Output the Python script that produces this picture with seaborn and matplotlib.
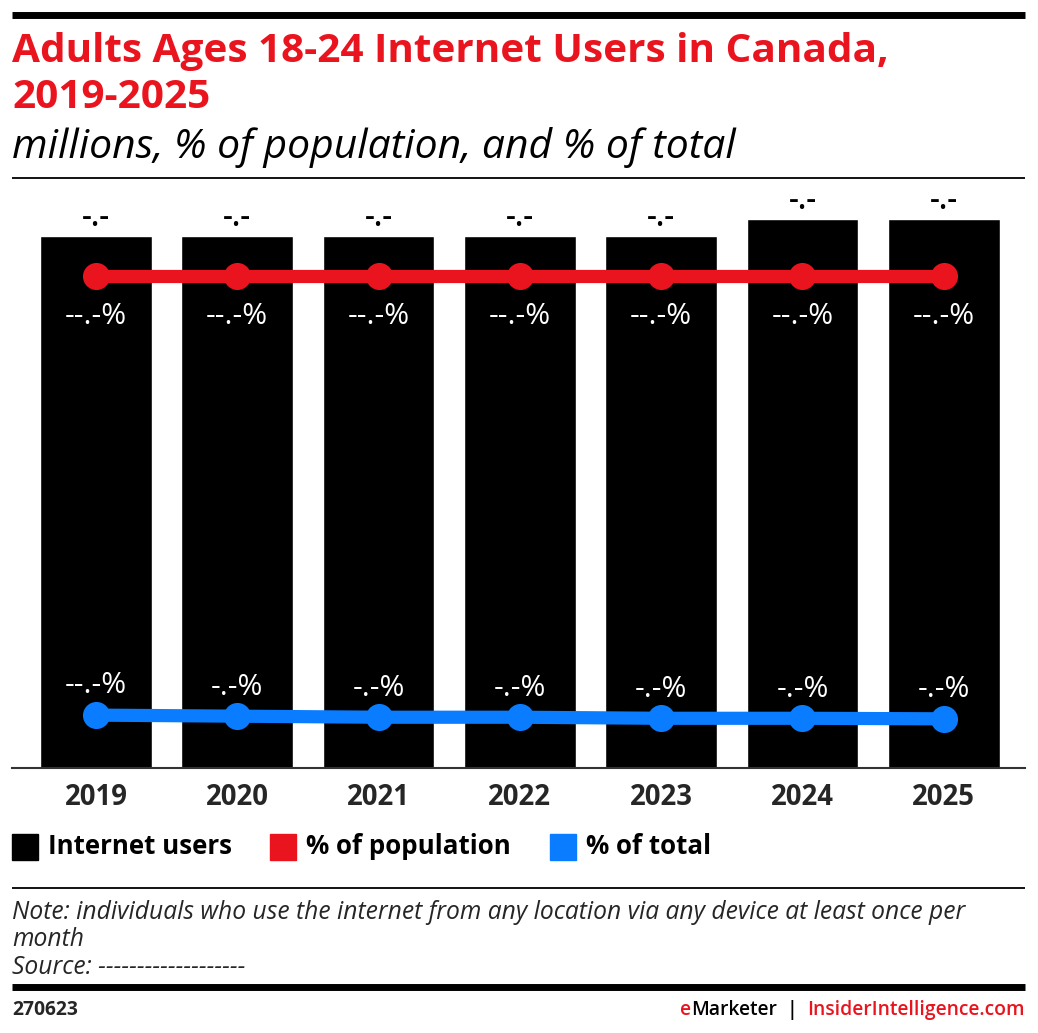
import numpy as np
import pandas as pd
import matplotlib
matplotlib.use("Agg")
import matplotlib.pyplot as plt
from matplotlib.lines import Line2D
from matplotlib.patches import Rectangle
import seaborn as sns

# ---------------- data ----------------
years = ["2019", "2020", "2021", "2022", "2023", "2024", "2025"]
internet_users = [3.1, 3.1, 3.1, 3.1, 3.1, 3.2, 3.2]          # millions (values hidden in source)
pct_population = [93.0, 93.0, 93.0, 93.0, 93.0, 93.0, 93.0]    # % of population
pct_total = [10.0, 9.8, 9.6, 9.6, 9.4, 9.4, 9.3]               # % of total
bar_labels = ["-.-"] * 7
pop_labels = ["--.-%"] * 7
total_labels = ["--.-%", "-.-%", "-.-%", "-.-%", "-.-%", "-.-%", "-.-%"]
legend_labels = ["Internet users", "% of population", "% of total"]

RED = "#E9141E"
BLUE = "#0A7CFF"
BLACK = "#000000"

sns.set_theme(style="white")
plt.rcParams["font.family"] = ["Open Sans", "DejaVu Sans"]

W, H = 1038, 1033
fig = plt.figure(figsize=(W / 100, H / 100), dpi=100)
fig.canvas.draw()
R = fig.canvas.get_renderer()

def fx(px):
    return px / W

def fy(py):
    return 1 - py / H

def fit_size(s, target_px, **kw):
    t = fig.text(0, 0, s, fontsize=20, **kw)
    w = t.get_window_extent(renderer=R).width
    t.remove()
    return 20 * target_px / w

ax_left, ax_right = 12, 1025
ax_top, ax_bottom = 200, 768
ax = fig.add_axes([fx(ax_left), fy(ax_bottom), fx(ax_right - ax_left), (ax_bottom - ax_top) / H])

df = pd.DataFrame({"year": years, "users": internet_users,
                   "pop": pct_population, "total": pct_total})

sns.barplot(data=df, x="year", y="users", order=years, color=BLACK,
            width=0.79, ax=ax, saturation=1)
ax.set_xlim(-0.594, 6.575)
ax.set_ylim(0, 3.31)

lab_bar_fs = fit_size("-.-", 28, fontweight="semibold")
for i, v in enumerate(internet_users):
    ax.annotate(bar_labels[i], (i, v), xytext=(0, 7), textcoords="offset points",
                ha="center", va="baseline", fontsize=lab_bar_fs, fontweight="semibold",
                color=BLACK)

ax2 = ax.twinx()
ax2.set_ylim(0, 107.4)
xpos = np.arange(len(years))
sns.lineplot(x=xpos, y=pct_population, ax=ax2, color=RED, linewidth=9.5,
             marker="o", markersize=19.5, markeredgewidth=0, markerfacecolor=RED)
sns.lineplot(x=xpos, y=pct_total, ax=ax2, color=BLUE, linewidth=9.5,
             marker="o", markersize=19.5, markeredgewidth=0, markerfacecolor=BLUE)

lab_fs = fit_size("--.-%", 62, fontweight="medium")
for i in range(len(years)):
    ax2.annotate(pop_labels[i], (i, pct_population[i]), xytext=(0, -29),
                 textcoords="offset points", ha="center", va="center",
                 fontsize=lab_fs, fontweight="medium", color="white")
    ax2.annotate(total_labels[i], (i, pct_total[i]), xytext=(0, 21),
                 textcoords="offset points", ha="center", va="center",
                 fontsize=lab_fs, fontweight="medium", color="white")

for a in (ax, ax2):
    for s in ["top", "right", "left"]:
        a.spines[s].set_visible(False)
    a.set_yticks([])
    a.set_ylabel("")
ax2.spines["bottom"].set_visible(False)
ax.spines["bottom"].set_color("#333333")
ax.spines["bottom"].set_linewidth(1.5)
ax.set_xlabel("")
tick_fs = fit_size("2019", 63, fontweight="bold")
ax.tick_params(axis="x", length=0, pad=11, labelsize=tick_fs)
for t in ax.get_xticklabels():
    t.set_fontweight("bold")

# ---------------- decorations ----------------
def hrule(y, lw, color=BLACK):
    fig.add_artist(Line2D([fx(12), fx(1025)], [fy(y), fy(y)], color=color,
                          linewidth=lw, solid_capstyle="butt"))

hrule(15, 5)
hrule(178, 1.3)
hrule(888, 1.3)
hrule(987, 5)

title_fs = fit_size("Adults Ages 18-24 Internet Users in Canada,", 876, fontweight="bold")
fig.text(fx(12), fy(62), "Adults Ages 18-24 Internet Users in Canada,", color=RED,
         fontsize=title_fs, fontweight="bold", ha="left", va="baseline")
fig.text(fx(12), fy(108), "2019-2025", color=RED,
         fontsize=title_fs, fontweight="bold", ha="left", va="baseline")
sub = "millions, % of population, and % of total"
sub_fs = fit_size(sub, 724, style="italic")
fig.text(fx(12), fy(158), sub, color=BLACK,
         fontsize=sub_fs, style="italic", ha="left", va="baseline")

# legend
leg_colors = [BLACK, RED, BLUE]
leg_x = [12, 270, 550]
leg_w = [184, 204, 125]
leg_fs = fit_size(legend_labels[0], leg_w[0], fontweight="bold")
for c, x0, lab in zip(leg_colors, leg_x, legend_labels):
    fig.add_artist(Rectangle((fx(x0), fy(860)), fx(26), 26 / H, color=c,
                             transform=fig.transFigure))
    fig.text(fx(x0 + 36), fy(847), lab, fontsize=leg_fs, fontweight="bold",
             ha="left", va="center", color=BLACK)

note1 = "Note: individuals who use the internet from any location via any device at least once per"
note_fs = fit_size(note1, 955, style="italic")
fig.text(fx(12), fy(919), note1, fontsize=note_fs, style="italic", ha="left", va="baseline")
fig.text(fx(12), fy(946), "month", fontsize=note_fs, style="italic", ha="left", va="baseline")
fig.text(fx(12), fy(974), "Source: -------------------", fontsize=note_fs, style="italic",
         ha="left", va="baseline")

foot_fs = fit_size("InsiderIntelligence.com", 216, fontweight="semibold")
fig.text(fx(12), fy(1015), "270623", fontsize=foot_fs, fontweight="bold", ha="left",
         va="baseline")

# footer brand, right aligned
parts = [("e", RED), ("Marketer", BLACK), ("  |  ", BLACK), ("InsiderIntelligence.com", RED)]
widths = []
for s, c in parts:
    t = fig.text(0, 0, s, fontsize=foot_fs, fontweight="semibold")
    widths.append(t.get_window_extent(renderer=R).width)
    t.remove()
x = 1025 - sum(widths)
for (s, c), w in zip(parts, widths):
    fig.text(fx(x), fy(1015), s, fontsize=foot_fs, fontweight="semibold", color=c,
             ha="left", va="baseline")
    x += w

fig.savefig("out.png", dpi=100)
